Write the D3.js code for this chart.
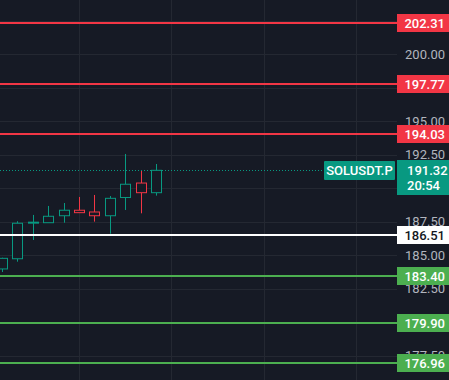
<!DOCTYPE html>
<html>
<head>
<meta charset="utf-8">
<script src="https://cdn.jsdelivr.net/npm/d3@7"></script>
<style>
  html, body { margin: 0; padding: 0; background: #161a25; }
  svg { display: block; }
</style>
</head>
<body>
<svg id="chart"></svg>
<script>
const width = 449
const height = 380

// candle data (index, open, high, low, close)
const opens  = [183.96, 184.72, 187.40, 187.41, 187.93, 188.34, 188.21, 187.93, 189.29, 190.37, 189.65]
const highs  = [184.80, 187.52, 187.99, 188.66, 188.88, 189.33, 189.48, 189.40, 192.54, 191.27, 191.79]
const lows   = [183.73, 184.50, 186.12, 187.41, 187.41, 188.16, 187.49, 186.59, 188.36, 188.11, 189.43]
const closes = [184.75, 187.37, 187.45, 187.89, 188.34, 188.16, 187.93, 189.23, 190.28, 189.65, 191.32]

const priceTicks = [177.5, 180, 182.5, 185, 187.5, 190, 192.5, 195, 197.5, 200, 202.5]
const timeGridIdx = [5, 11, 17, 23]

const redLevels = [202.31, 197.77, 194.03]
const whiteLevels = [186.51]
const greenLevels = [183.40, 179.90, 176.96]

const symbol = 'SOLUSDT.P'
const lastPrice = 191.32
const countdown = '20:54'

const axisX = 397
const up = '#089981'
const down = '#f23645'
const levelGreen = '#4caf50'
const grid = '#242832'
const font = 'Roboto, "Noto Sans", sans-serif'

const candles = opens.map((o, i) => ({ i, o, h: highs[i], l: lows[i], c: closes[i] }))

const x = d3.scaleLinear().domain([0, 25]).range([2, 2 + 25 * 15.4])
const y = d3.scaleLinear().domain([200, 195]).range([54, 121])

const svg = d3.select('#chart').attr('width', width).attr('height', height)

svg.append('rect').attr('width', width).attr('height', height).attr('fill', '#161a25')

// grid
svg.append('g').selectAll('line').data(priceTicks).join('line')
  .attr('x1', 0).attr('x2', axisX)
  .attr('y1', d => Math.round(y(d)) + 0.5).attr('y2', d => Math.round(y(d)) + 0.5)
  .attr('stroke', grid).attr('stroke-width', 1)

svg.append('g').selectAll('line').data(timeGridIdx).join('line')
  .attr('x1', d => Math.round(x(d)) + 0.5).attr('x2', d => Math.round(x(d)) + 0.5)
  .attr('y1', 0).attr('y2', height)
  .attr('stroke', grid).attr('stroke-width', 1)

// price axis tick labels (skip those hidden under a level/price label)
const labelled = [...redLevels, ...whiteLevels, ...greenLevels]
const visibleTicks = priceTicks.filter(t =>
  labelled.every(p => Math.abs(y(p) - y(t)) > 6) &&
  !(y(t) > y(lastPrice) - 10 && y(t) < y(lastPrice) + 26))

svg.append('g').selectAll('text').data(visibleTicks).join('text')
  .attr('x', 445).attr('y', d => y(d))
  .attr('dy', '0.36em')
  .attr('text-anchor', 'end')
  .attr('font-family', font).attr('font-size', 13)
  .attr('fill', '#b2b5be')
  .text(d => d.toFixed(2))

// last price dotted line
svg.append('line')
  .attr('x1', 0).attr('x2', 324)
  .attr('y1', Math.round(y(lastPrice)) + 0.5).attr('y2', Math.round(y(lastPrice)) + 0.5)
  .attr('stroke', up).attr('stroke-width', 1)
  .attr('stroke-dasharray', '1,2')

// candles (hollow)
const candle = svg.append('g').selectAll('g').data(candles).join('g')
candle.each(function (d) {
  const g = d3.select(this)
  const col = d.c >= d.o ? up : down
  const cx = Math.round(x(d.i)) + 0.5
  const top = y(Math.max(d.o, d.c))
  const bot = y(Math.min(d.o, d.c))
  g.append('line').attr('x1', cx).attr('x2', cx)
    .attr('y1', y(d.h)).attr('y2', top)
    .attr('stroke', col).attr('stroke-width', 1)
  g.append('line').attr('x1', cx).attr('x2', cx)
    .attr('y1', bot).attr('y2', y(d.l))
    .attr('stroke', col).attr('stroke-width', 1)
  g.append('rect')
    .attr('x', cx - 5).attr('width', 10)
    .attr('y', top).attr('height', Math.max(1, bot - top))
    .attr('fill', '#161a25').attr('stroke', col).attr('stroke-width', 1)
})

// horizontal levels with axis labels
function level(p, color, textColor) {
  const yy = Math.round(y(p))
  svg.append('line')
    .attr('x1', 0).attr('x2', axisX)
    .attr('y1', yy).attr('y2', yy)
    .attr('stroke', color).attr('stroke-width', 2)
  svg.append('rect')
    .attr('x', axisX).attr('y', yy - 9).attr('width', width - axisX).attr('height', 18)
    .attr('fill', color)
  svg.append('text')
    .attr('x', 445).attr('y', yy).attr('dy', '0.36em')
    .attr('text-anchor', 'end')
    .attr('font-family', font).attr('font-size', 13).attr('font-weight', 500)
    .attr('fill', textColor)
    .text(p.toFixed(2))
}
redLevels.forEach(p => level(p, down, '#ffffff'))
whiteLevels.forEach(p => level(p, '#ffffff', '#131722'))
greenLevels.forEach(p => level(p, levelGreen, '#ffffff'))

// symbol + last price labels
const ly = Math.round(y(lastPrice))
svg.append('rect')
  .attr('x', 324).attr('y', ly - 9).attr('width', 71).attr('height', 19)
  .attr('rx', 1).attr('fill', up)
svg.append('text')
  .attr('x', 359.5).attr('y', ly).attr('dy', '0.38em')
  .attr('text-anchor', 'middle')
  .attr('font-family', font).attr('font-size', 13).attr('font-weight', 500)
  .attr('fill', '#ffffff')
  .text(symbol)

svg.append('rect')
  .attr('x', axisX).attr('y', ly - 10).attr('width', width - axisX).attr('height', 35)
  .attr('fill', up)
svg.append('text')
  .attr('x', 407).attr('y', ly).attr('dy', '0.36em')
  .attr('font-family', font).attr('font-size', 13).attr('font-weight', 500)
  .attr('fill', '#ffffff')
  .text(lastPrice.toFixed(2))
svg.append('text')
  .attr('x', 407).attr('y', ly + 15).attr('dy', '0.36em')
  .attr('font-family', font).attr('font-size', 13).attr('font-weight', 500)
  .attr('fill', '#ffffff')
  .text(countdown)
</script>
</body>
</html>
